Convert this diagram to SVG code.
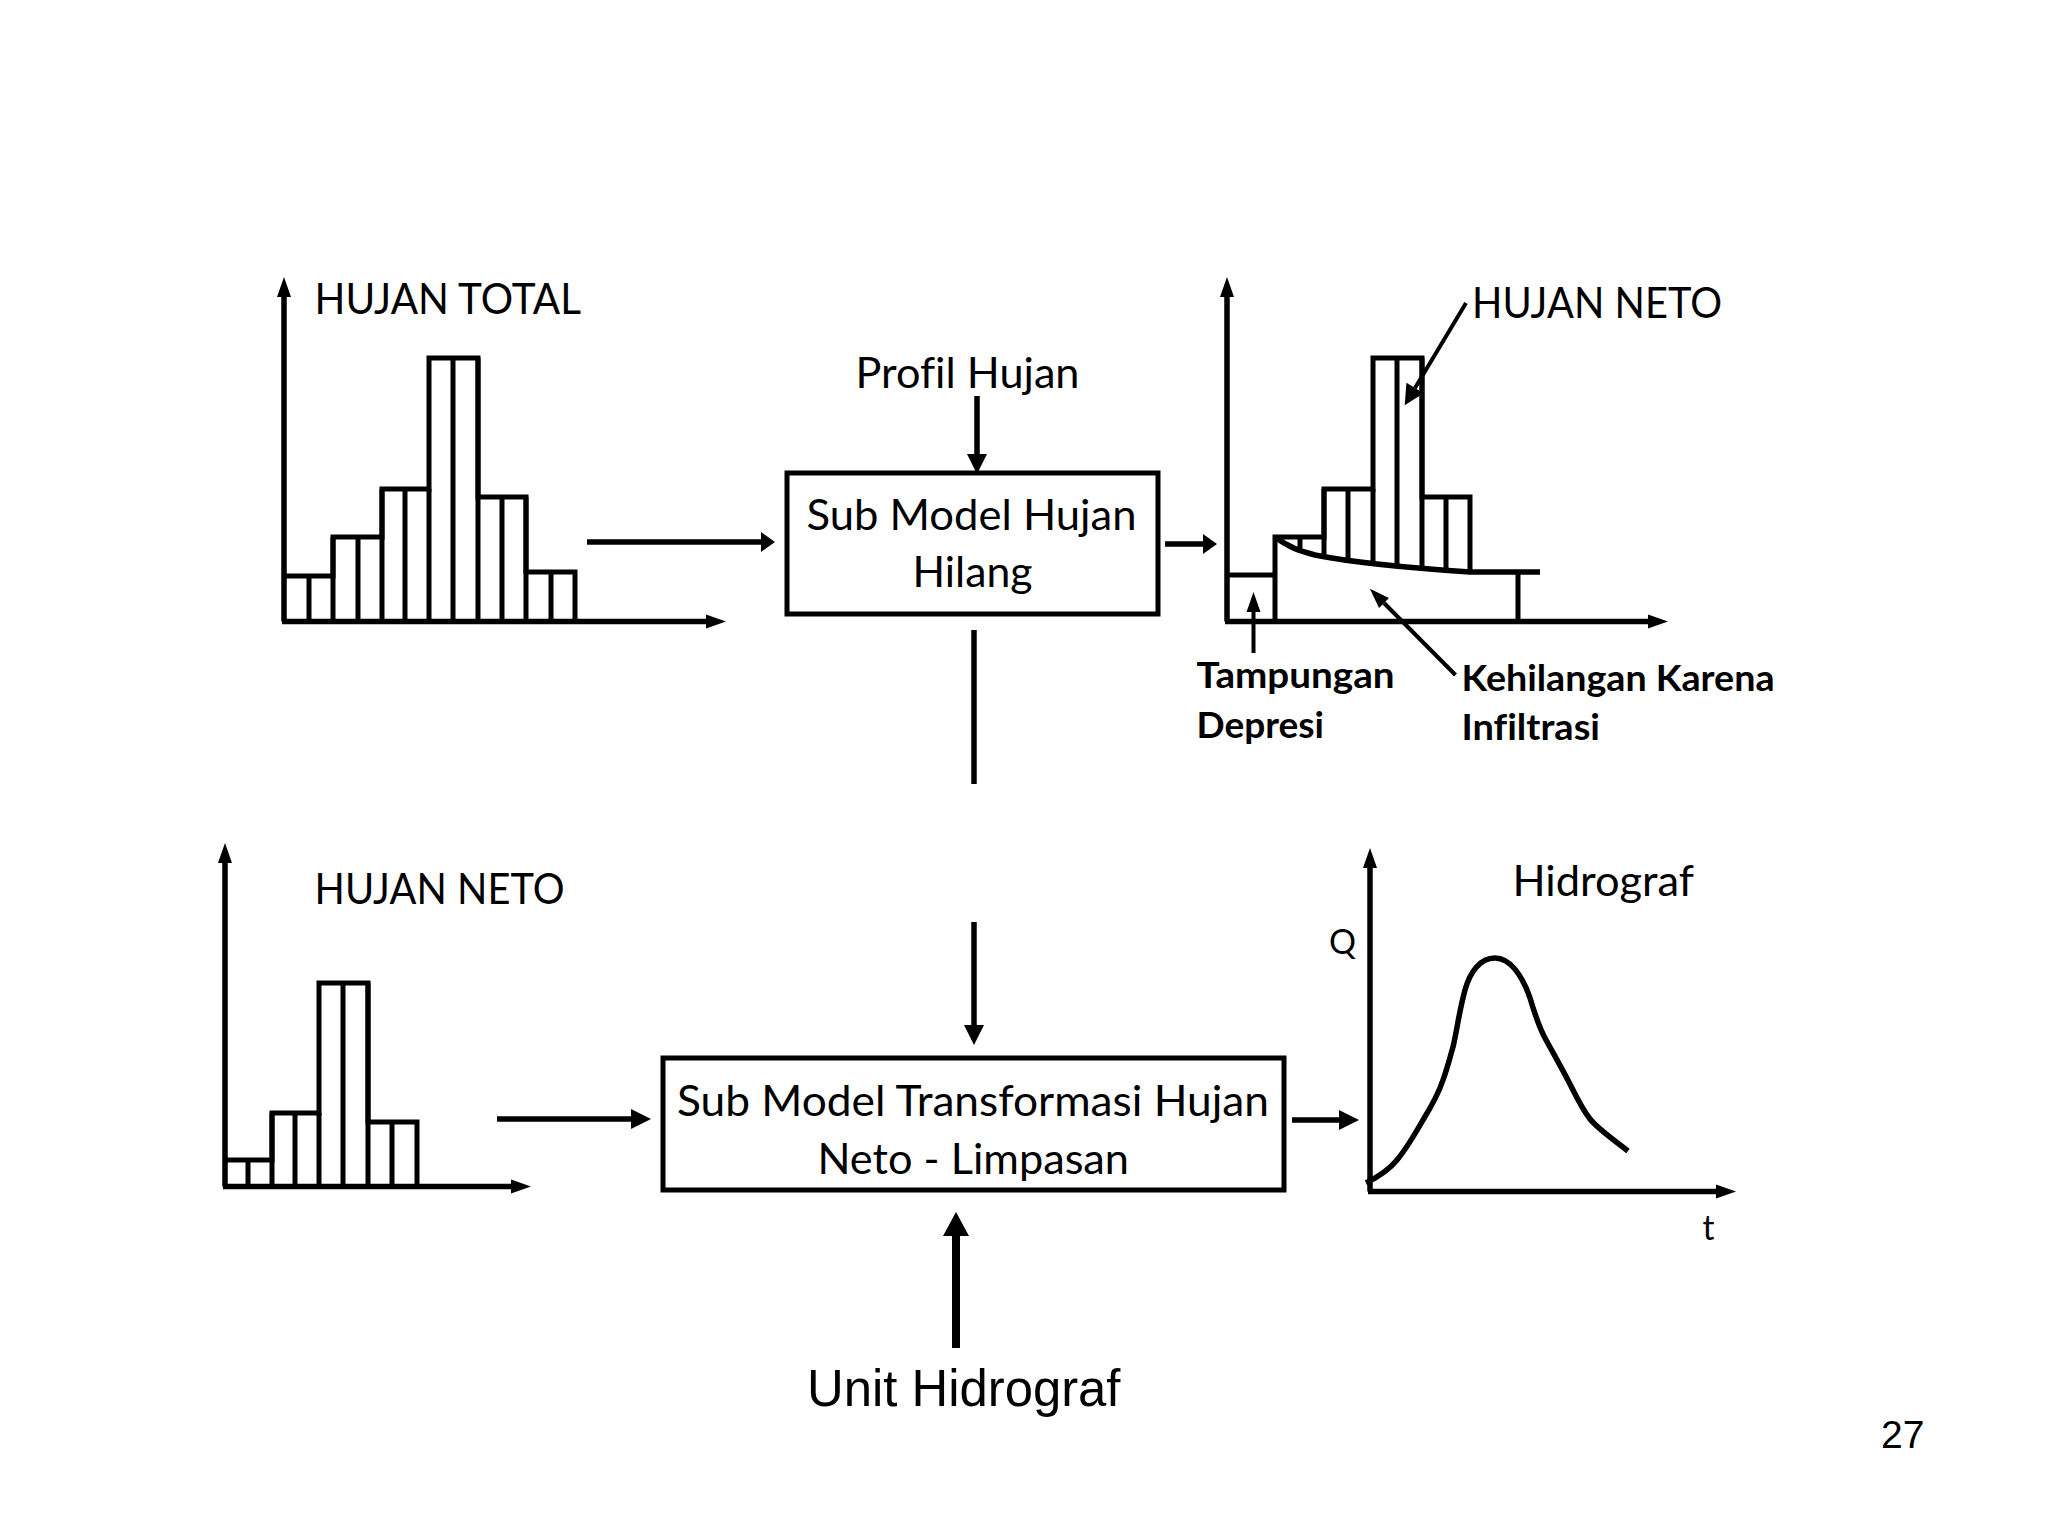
<svg xmlns="http://www.w3.org/2000/svg" width="2048" height="1536" viewBox="0 0 2048 1536">
<style>
.t{font-family:"Lato","Open Sans",sans-serif;font-size:42px;fill:#000;font-variant-ligatures:none}
.b{font-weight:700;font-size:36px}
.a{font-family:"Liberation Sans",Arial,sans-serif;fill:#000}
.l{fill:none;stroke:#000;stroke-width:5;stroke-linejoin:miter}
.box{fill:none;stroke:#000;stroke-width:5}
.c{fill:none;stroke:#000;stroke-width:5.5}
.s{fill:none;stroke:#000;stroke-width:4}
.ax{marker-end:url(#axis)}
.ar{marker-end:url(#head)}
.am{marker-end:url(#mid)}
</style>
<defs>
<marker id="axis" markerUnits="userSpaceOnUse" markerWidth="22" markerHeight="16" refX="0" refY="8" orient="auto" overflow="visible"><path d="M0,1 L20,8 L0,15Z" fill="#000"/></marker>
<marker id="head" markerUnits="userSpaceOnUse" markerWidth="16" markerHeight="22" refX="0" refY="11" orient="auto" overflow="visible"><path d="M0,1 L14,11 L0,21Z" fill="#000"/></marker>
<marker id="mid" markerUnits="userSpaceOnUse" markerWidth="22" markerHeight="22" refX="0" refY="11" orient="auto" overflow="visible"><path d="M0,1 L20,11 L0,21Z" fill="#000"/></marker>
<marker id="big" markerUnits="userSpaceOnUse" markerWidth="26" markerHeight="28" refX="0" refY="14" orient="auto" overflow="visible"><path d="M0,1 L24,14 L0,27Z" fill="#000"/></marker>
</defs>
<rect width="2048" height="1536" fill="#fff"/>
<g id="connectors">
<path class="c ar" d="M587,542 H761"/>
<path class="c am" d="M977,396 V454"/>
<path class="c ar" d="M1165,544 H1203"/>
<path class="c" d="M974,630 V784"/>
<path class="c am" d="M497,1119 H631"/>
<path class="c am" d="M974,922 V1025"/>
<path class="c am" d="M1292,1120 H1339"/>
<path d="M956,1348 V1236" fill="none" stroke="#000" stroke-width="8" marker-end="url(#big)"/>
</g>
<g id="chart-hujan-total">
<path class="c ax" d="M284,621.5 V297"/>
<path class="c ax" d="M282,621.5 H706"/>
<path class="l" d="M284,576 H333 V537 H382 V489 H429 V358 H478 V497 H526 V572 H575 V621"/>
<path class="l" d="M309,576 V621 M333,537 V621 M358,537 V621 M382,489 V621 M405,489 V621 M429,489 V621 M453,358 V621 M478,358 V621 M502,497 V621 M526,497 V621 M551,572 V621"/>
<text class="t" x="314.5" y="313.5" textLength="266.5" lengthAdjust="spacingAndGlyphs">HUJAN TOTAL</text>
</g>
<g id="profil-hujan"><text class="t" x="855.5" y="387.5" textLength="224" lengthAdjust="spacingAndGlyphs">Profil Hujan</text></g>
<g id="box-hujan-hilang">
<rect class="box" x="787" y="473" width="371" height="141"/>
<text class="t" x="806.5" y="530" textLength="330" lengthAdjust="spacingAndGlyphs">Sub Model Hujan</text>
<text class="t" x="912.5" y="587" textLength="120" lengthAdjust="spacingAndGlyphs">Hilang</text>
</g>
<g id="chart-hujan-neto-1">
<path class="c ax" d="M1227,621.5 V297"/>
<path class="c ax" d="M1225,621.5 H1648"/>
<path class="l" d="M1227,575 H1275 M1275,621 V537 H1324 V489 H1373 V358 H1422 V497 H1470 V572"/>
<path class="l" d="M1300,537 V548 M1324,489 V555 M1348,489 V559 M1373,489 V563 M1397,358 V566 M1422,358 V568 M1446,497 V570"/>
<path d="M1275,537 C1290,548 1300,551 1315,555 C1340,560 1395,567 1470,572 L1540,572" fill="none" stroke="#000" stroke-width="5.5"/>
<path class="l" d="M1518,572 V621"/>
<path class="s" d="M1466,303 L1415,388" marker-end="url(#mid)"/>
<path class="s ax" d="M1253.5,653 V612"/>
<path class="s ax" d="M1455.5,675 L1384,603"/>
<text class="t" x="1472" y="317.5" textLength="250" lengthAdjust="spacingAndGlyphs">HUJAN NETO</text>
<text class="t b" x="1196.5" y="688" textLength="198" lengthAdjust="spacingAndGlyphs">Tampungan</text>
<text class="t b" x="1196.5" y="738" textLength="127.5" lengthAdjust="spacingAndGlyphs">Depresi</text>
<text class="t b" x="1461.5" y="690.5" textLength="313" lengthAdjust="spacingAndGlyphs">Kehilangan Karena</text>
<text class="t b" x="1461.5" y="739.5" textLength="138.5" lengthAdjust="spacingAndGlyphs">Infiltrasi</text>
</g>
<g id="chart-hujan-neto-2">
<path class="c ax" d="M225,1186.5 V863"/>
<path class="c ax" d="M223,1186.5 H511"/>
<path class="l" d="M225,1160 H272 V1113 H319 V983 H368 V1122 H417 V1186"/>
<path class="l" d="M248,1160 V1186 M272,1113 V1186 M295,1113 V1186 M319,1113 V1186 M343,983 V1186 M368,983 V1186 M392,1122 V1186"/>
<text class="t" x="314.5" y="904" textLength="250" lengthAdjust="spacingAndGlyphs">HUJAN NETO</text>
</g>
<g id="box-transformasi">
<rect class="box" x="663" y="1058" width="621" height="132"/>
<text class="t" x="677" y="1116" textLength="592" lengthAdjust="spacingAndGlyphs">Sub Model Transformasi Hujan</text>
<text class="t" x="817.5" y="1173.5" textLength="311.5" lengthAdjust="spacingAndGlyphs">Neto - Limpasan</text>
</g>
<g id="chart-hidrograf">
<path class="c ax" d="M1370,1191.5 V868"/>
<path class="c ax" d="M1368,1191.5 H1716"/>
<path class="c" d="M1366,1183 C1378,1177 1388,1171 1397,1160 C1407,1148 1415,1134 1423,1120 C1431,1107 1438,1095 1443,1080 C1448,1066 1450,1057 1453,1047 C1457,1030 1459,1012 1465,990 C1470,972 1480,958 1495,958 C1510,958 1522,975 1530,998 C1535,1014 1538,1025 1545,1038 C1553,1053 1562,1068 1573,1090 C1578,1100 1583,1110 1590,1119 C1597,1128 1610,1137 1628,1151"/>
<text class="t" x="1512.5" y="895.5" textLength="181.5" lengthAdjust="spacingAndGlyphs">Hidrograf</text>
<text class="t" style="font-size:34px" x="1329" y="953.5" textLength="27" lengthAdjust="spacingAndGlyphs">Q</text>
<text class="t" style="font-size:34px" x="1702.5" y="1240" textLength="12" lengthAdjust="spacingAndGlyphs">t</text>
</g>
<g id="unit-hidrograf"><text class="a" font-size="52" x="807" y="1406" textLength="313.5" lengthAdjust="spacingAndGlyphs">Unit Hidrograf</text></g>
<g id="page-number"><text class="a" font-size="39" x="1881" y="1447.5">27</text></g>
</svg>
